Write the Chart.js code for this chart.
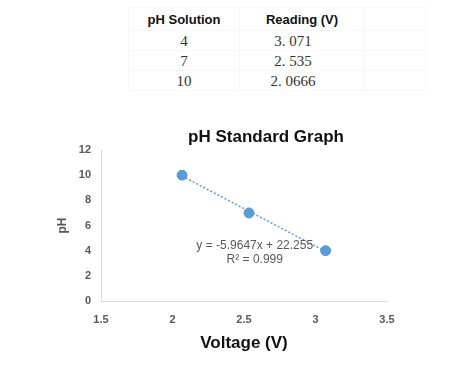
<!DOCTYPE html>
<html>
<head>
<meta charset="utf-8">
<script src="https://cdn.jsdelivr.net/npm/chart.js@4.4.0/dist/chart.umd.min.js"></script>
<style>
  body { margin: 0; background: #fff; width: 474px; height: 369px; overflow: hidden; position: relative; }
  table { position: absolute; left: 128px; top: 7px; border-collapse: collapse; }
  td, th { border: 1px solid #f7f7f7; height: 19px; padding: 0; text-align: center; }
  th { font: bold 13px "Liberation Sans", Arial, sans-serif; color: #111; height: 22px; }
  td { font: 15px "Liberation Serif", "DejaVu Serif", serif; color: #333; padding-top: 2px; height: 17px; }
  #wrap { position: absolute; left: 0; top: 110px; width: 474px; height: 259px; }
</style>
</head>
<body>
<table id="tbl">
  <thead><tr><th style="width:110px">pH Solution</th><th style="width:124px">Reading (V)</th><th style="width:60px"></th></tr></thead>
  <tbody></tbody>
</table>
<div id="wrap"><canvas id="chart" width="474" height="259"></canvas></div>
<script>
// standard solutions and measured voltages
const phValues = [4, 7, 10];
const readingLabels = ['3. 071', '2. 535', '2. 0666'];
const voltages = [3.071, 2.535, 2.0666];

// trendline as reported on the graph
const slope = -5.9647;
const intercept = 22.255;
const rSquared = 0.999;

const tbody = document.querySelector('#tbl tbody');
phValues.forEach((ph, i) => {
  const tr = document.createElement('tr');
  tr.innerHTML = `<td>${ph}</td><td style="padding-right:18px">${readingLabels[i]}</td><td></td>`;
  tbody.appendChild(tr);
});

const points = voltages.map((v, i) => ({ x: v, y: phValues[i] }));
const xMin = Math.min(...voltages);
const xMax = Math.max(...voltages);
const trend = [xMin, xMax].map(x => ({ x: x, y: slope * x + intercept }));

const font = '"Liberation Sans", Arial, sans-serif';

// chart title, equation and pH axis title
const extras = {
  id: 'extras',
  afterDatasetsDraw(chart) {
    const { ctx, scales, chartArea } = chart;
    ctx.save();
    ctx.textAlign = 'center';
    ctx.textBaseline = 'middle';

    ctx.fillStyle = '#111';
    ctx.font = 'bold 17px ' + font;
    ctx.fillText('pH Standard Graph', 266, chartArea.top - 13);

    const px = scales.x.getPixelForValue(2.575);
    const py = scales.y.getPixelForValue(4.4);
    ctx.fillStyle = '#595959';
    ctx.font = '12px ' + font;
    ctx.fillText('y = ' + slope + 'x + ' + intercept, px, py);
    ctx.fillText('R² = ' + rSquared, px, py + 14);

    ctx.translate(63, (chartArea.top + chartArea.bottom) / 2);
    ctx.rotate(-Math.PI / 2);
    ctx.font = 'bold 12px ' + font;
    ctx.fillText('pH', 0, 0);
    ctx.restore();
  }
};

const ctx = document.getElementById('chart').getContext('2d');
new Chart(ctx, {
  type: 'scatter',
  data: {
    datasets: [
      {
        label: 'trend',
        data: trend,
        showLine: true,
        borderColor: '#5B9BD5',
        borderWidth: 1.5,
        borderDash: [2, 2],
        pointRadius: 0,
        fill: false,
      },
      {
        label: 'pH',
        data: points,
        backgroundColor: '#5B9BD5',
        borderColor: '#5B9BD5',
        pointRadius: 5,
      },
    ],
  },
  options: {
    responsive: false,
    animation: false,
    layout: { padding: { left: 0, right: 87, top: 40, bottom: 15 } },
    plugins: {
      legend: { display: false },
      tooltip: { enabled: false },
      title: { display: false },
    },
    scales: {
      x: {
        type: 'linear',
        min: 1.5,
        max: 3.5,
        ticks: {
          stepSize: 0.5,
          color: '#595959',
          font: { family: font, size: 11, weight: 'bold' },
          padding: 12,
          callback: v => String(v),
        },
        grid: { display: false, drawTicks: false },
        border: { color: '#d9d9d9', width: 1 },
        title: {
          display: true,
          text: 'Voltage (V)',
          color: '#111',
          font: { family: font, size: 17, weight: 'bold' },
          padding: { top: 4, bottom: 0 },
        },
        afterFit: s => { s.height = 53; },
      },
      y: {
        min: 0,
        max: 12,
        ticks: {
          stepSize: 2,
          color: '#595959',
          font: { family: font, size: 11, weight: 'bold' },
          padding: 10,
        },
        grid: { display: false, drawTicks: false },
        border: { color: '#d9d9d9', width: 1 },
        afterFit: s => { s.width = 101; },
      },
    },
  },
  plugins: [extras],
});
</script>
</body>
</html>
